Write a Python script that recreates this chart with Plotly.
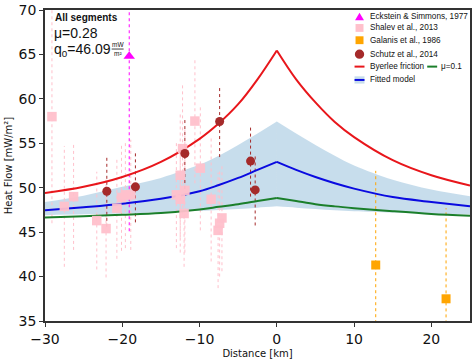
import plotly.graph_objects as go

# ---------------- data ----------------
# Shalev et al., 2013
shalev_x = [-29.1, -27.5, -26.3, -23.3, -22.1, -20.7, -20.1, -19.6, -18.9, -13.0, -12.5,
            -12.5, -12.2, -11.9, -12.0, -10.6, -9.9, -8.5, -7.6, -7.4, -7.1]
shalev_y = [58.0, 47.9, 49.0, 46.3, 45.4, 47.7, 48.9, 49.2, 49.2, 49.2, 48.7,
            51.4, 54.4, 49.7, 47.1, 57.5, 52.2, 48.7, 45.2, 46.0, 46.6]
shalev_err = [12.0, 6.8, 6.0, 5.5, 5.5, 5.7, 6.0, 6.0, 6.2, 6.0, 6.0,
              7.0, 7.4, 7.0, 6.0, 7.0, 7.0, 7.0, 6.5, 6.0, 6.0]

# Schutz et al., 2014
schutz_x = [-22.0, -18.3, -11.9, -7.4, -3.4, -2.8]
schutz_y = [49.6, 50.1, 53.85, 57.45, 53.0, 49.75]
schutz_err = [4.0, 4.0, 4.0, 4.0, 4.0, 4.0]

# Eckstein & Simmons, 1977
eck_x = [-19.1]
eck_y = [64.8]
eck_err = [19.7]

# Galanis et al., 1986
gal_x = [12.8, 21.9]
gal_y = [41.3, 37.5]
gal_err = [10.6, 10.2]

# Model curves (cusp at x = 0, index 8)
model_x = [-30, -25, -20, -15, -10, -7.5, -5, -2.5, 0, 2.5, 5, 7.5, 10, 15, 20, 25]
byerlee_y = [49.4, 50.1, 51.2, 52.9, 55.5, 57.25, 59.4, 62.2, 65.45, 62.2, 59.6, 57.4, 55.7, 53.1, 51.4, 50.25]
fitted_y = [47.45, 47.8, 48.2, 48.75, 49.6, 50.3, 51.1, 52.0, 52.9, 52.0, 51.2, 50.5, 49.9, 48.95, 48.4, 47.9]
mu01_y = [46.65, 46.8, 46.95, 47.15, 47.55, 47.85, 48.15, 48.5, 48.85, 48.5, 48.15, 47.9, 47.7, 47.35, 47.05, 46.85]
band_hi = [48.4, 49.1, 50.1, 51.1, 52.6, 53.6, 54.8, 56.1, 57.45, 56.1, 54.8, 53.6, 52.5, 50.9, 49.8, 49.05]
band_lo = [46.9, 47.0, 47.1, 47.25, 47.4, 47.5, 47.6, 47.75, 47.9, 47.75, 47.6, 47.45, 47.35, 47.2, 47.05, 47.0]
CUSP = 8

x_ticks = [-30, -20, -10, 0, 10, 20]
y_ticks = [35, 40, 45, 50, 55, 60, 65, 70]

# ---------------- helpers ----------------
def err_segments(xs, ys, es):
    sx, sy = [], []
    for x, y, e in zip(xs, ys, es):
        sx += [x, x, None]
        sy += [y - e, y + e, None]
    return sx, sy

def halves(vals):
    return vals[:CUSP + 1], vals[CUSP:]

PINK = "#FFC0CB"
BROWN = "#A52A2A"
ORANGE = "#FFA500"
MAGENTA = "#FF00FF"
RED = "#E8161B"
BLUE = "#0A0AE0"
GREEN = "#1B7F2B"
BAND = "rgba(31,119,180,0.25)"

fig = go.Figure()

xl, xr = halves(model_x)

# uncertainty band (each side of the cusp)
for xs, lo, hi in [(xl, halves(band_lo)[0], halves(band_hi)[0]),
                   (xr, halves(band_lo)[1], halves(band_hi)[1])]:
    fig.add_trace(go.Scatter(x=xs, y=lo, mode="lines", line=dict(width=0, shape="spline"),
                             showlegend=False, hoverinfo="skip"))
    fig.add_trace(go.Scatter(x=xs, y=hi, mode="lines", line=dict(width=0, shape="spline"),
                             fill="tonexty", fillcolor=BAND, showlegend=False, hoverinfo="skip"))

# error bars (dotted)
for xs, ys, es, col in [(shalev_x, shalev_y, shalev_err, PINK),
                        (schutz_x, schutz_y, schutz_err, BROWN),
                        (eck_x, eck_y, eck_err, MAGENTA),
                        (gal_x, gal_y, gal_err, ORANGE)]:
    sx, sy = err_segments(xs, ys, es)
    fig.add_trace(go.Scatter(x=sx, y=sy, mode="lines", line=dict(color=col, width=1, dash="dot"),
                             showlegend=False, hoverinfo="skip"))

# model lines
for vals, col in [(mu01_y, GREEN), (fitted_y, BLUE), (byerlee_y, RED)]:
    yl, yr = halves(vals)
    for xs, ys in [(xl, yl), (xr, yr)]:
        fig.add_trace(go.Scatter(x=xs, y=ys, mode="lines",
                                 line=dict(color=col, width=2, shape="spline"), showlegend=False))

# markers
fig.add_trace(go.Scatter(x=shalev_x, y=shalev_y, mode="markers",
                         marker=dict(symbol="square", size=9.5, color=PINK, opacity=0.95),
                         showlegend=False))
fig.add_trace(go.Scatter(x=gal_x, y=gal_y, mode="markers",
                         marker=dict(symbol="square", size=9, color=ORANGE), showlegend=False))
fig.add_trace(go.Scatter(x=schutz_x, y=schutz_y, mode="markers",
                         marker=dict(symbol="circle", size=9, color=BROWN), showlegend=False))
fig.add_trace(go.Scatter(x=eck_x, y=eck_y, mode="markers",
                         marker=dict(symbol="triangle-up", size=10, color=MAGENTA), showlegend=False))

# ---------------- layout ----------------
L, R, T, B = 45, 472, 6, 323
W, H = 474, 360

def px(x):
    return (x - L) / (R - L)

def py(y):
    return (B - y) / (B - T)

shapes = []
annotations = []

LEG_FONT = dict(family="Liberation Sans, Arial", size=8.2, color="#111")
legend_rows = [
    (12.7, "Eckstein & Simmons, 1977"),
    (24.3, "Shalev et al., 2013"),
    (36.8, "Galanis et al., 1986"),
    (51.0, "Schutz et al., 2014"),
    (63.7, "Byerlee friction"),
    (77.3, "Fitted model"),
]
for yy, txt in legend_rows:
    annotations.append(dict(x=px(370), y=py(yy), xref="paper", yref="paper", text=txt,
                            showarrow=False, xanchor="left", yanchor="middle", font=LEG_FONT))
annotations.append(dict(x=px(441), y=py(63.7), xref="paper", yref="paper", text="μ=0.1",
                        showarrow=False, xanchor="left", yanchor="middle", font=LEG_FONT))

# legend glyphs
shapes.append(dict(type="path", xref="paper", yref="paper",
                   path=f"M {px(356.5)} {py(16.5)} L {px(365.5)} {py(16.5)} L {px(361)} {py(8.8)} Z",
                   fillcolor=MAGENTA, line=dict(width=0)))
shapes.append(dict(type="rect", xref="paper", yref="paper", x0=px(357), x1=px(365), y0=py(28.3), y1=py(20.3),
                   fillcolor=PINK, line=dict(width=0)))
shapes.append(dict(type="rect", xref="paper", yref="paper", x0=px(357), x1=px(365), y0=py(40.8), y1=py(32.8),
                   fillcolor=ORANGE, line=dict(width=0)))
shapes.append(dict(type="circle", xref="paper", yref="paper", x0=px(356.3), x1=px(365.7), y0=py(55.7), y1=py(46.3),
                   fillcolor=BROWN, line=dict(width=0)))
shapes.append(dict(type="line", xref="paper", yref="paper", x0=px(356), x1=px(366), y0=py(63.7), y1=py(63.7),
                   line=dict(color=RED, width=2)))
shapes.append(dict(type="line", xref="paper", yref="paper", x0=px(429), x1=px(439), y0=py(63.7), y1=py(63.7),
                   line=dict(color=GREEN, width=2)))
shapes.append(dict(type="rect", xref="paper", yref="paper", x0=px(356), x1=px(366), y0=py(81), y1=py(73.6),
                   fillcolor=BAND, line=dict(width=0)))
shapes.append(dict(type="line", xref="paper", yref="paper", x0=px(356), x1=px(366), y0=py(77.3), y1=py(77.3),
                   line=dict(color=BLUE, width=2)))

# top-left text block
annotations.append(dict(x=px(53), y=py(13.5), xref="paper", yref="paper", text="<b>All segments</b>",
                        showarrow=False, xanchor="left", yanchor="middle",
                        font=dict(family="Liberation Sans, Arial", size=10, color="#111")))
annotations.append(dict(x=px(52), y=py(29.5), xref="paper", yref="paper", text="μ=0.28",
                        showarrow=False, xanchor="left", yanchor="middle",
                        font=dict(family="Liberation Sans, Arial", size=14, color="#111")))
annotations.append(dict(x=px(52), y=py(47), xref="paper", yref="paper", text="q<sub>0</sub>=46.09",
                        showarrow=False, xanchor="left", yanchor="middle",
                        font=dict(family="Liberation Sans, Arial", size=14, color="#111")))
annotations.append(dict(x=px(118), y=py(41.3), xref="paper", yref="paper", text="mW",
                        showarrow=False, xanchor="center", yanchor="middle",
                        font=dict(family="Liberation Sans, Arial", size=6.5, color="#111")))
annotations.append(dict(x=px(118), y=py(50.3), xref="paper", yref="paper", text="m²",
                        showarrow=False, xanchor="center", yanchor="middle",
                        font=dict(family="Liberation Sans, Arial", size=6.5, color="#111")))
shapes.append(dict(type="line", xref="paper", yref="paper", x0=px(112), x1=px(124), y0=py(45.8), y1=py(45.8),
                   line=dict(color="#111", width=0.8)))

axis_common = dict(showline=True, mirror=True, linecolor="#333", linewidth=1.5,
                   ticks="outside", ticklen=4, tickwidth=1.2, tickcolor="#333",
                   showgrid=False, zeroline=False, ticklabeloverflow="allow",
                   tickfont=dict(family="DejaVu Sans", size=14, color="#111"))

fig.update_layout(
    width=W, height=H,
    margin=dict(l=L, r=W - R, t=T, b=H - B),
    paper_bgcolor="white", plot_bgcolor="white",
    showlegend=False,
    xaxis=dict(range=[-30, 25], tickvals=x_ticks,
               title=dict(text="Distance [km]", font=dict(family="DejaVu Sans", size=10, color="#111"), standoff=4),
               **axis_common),
    yaxis=dict(range=[35, 70], tickvals=y_ticks,
               title=dict(text="Heat Flow [mW/m²]", font=dict(family="DejaVu Sans", size=10, color="#111"), standoff=4),
               **axis_common),
    shapes=shapes,
    annotations=annotations,
)

fig.write_html("out.html", config={"displayModeBar": False},
               post_script="document.body.style.margin='0';document.body.style.overflow='hidden';")
